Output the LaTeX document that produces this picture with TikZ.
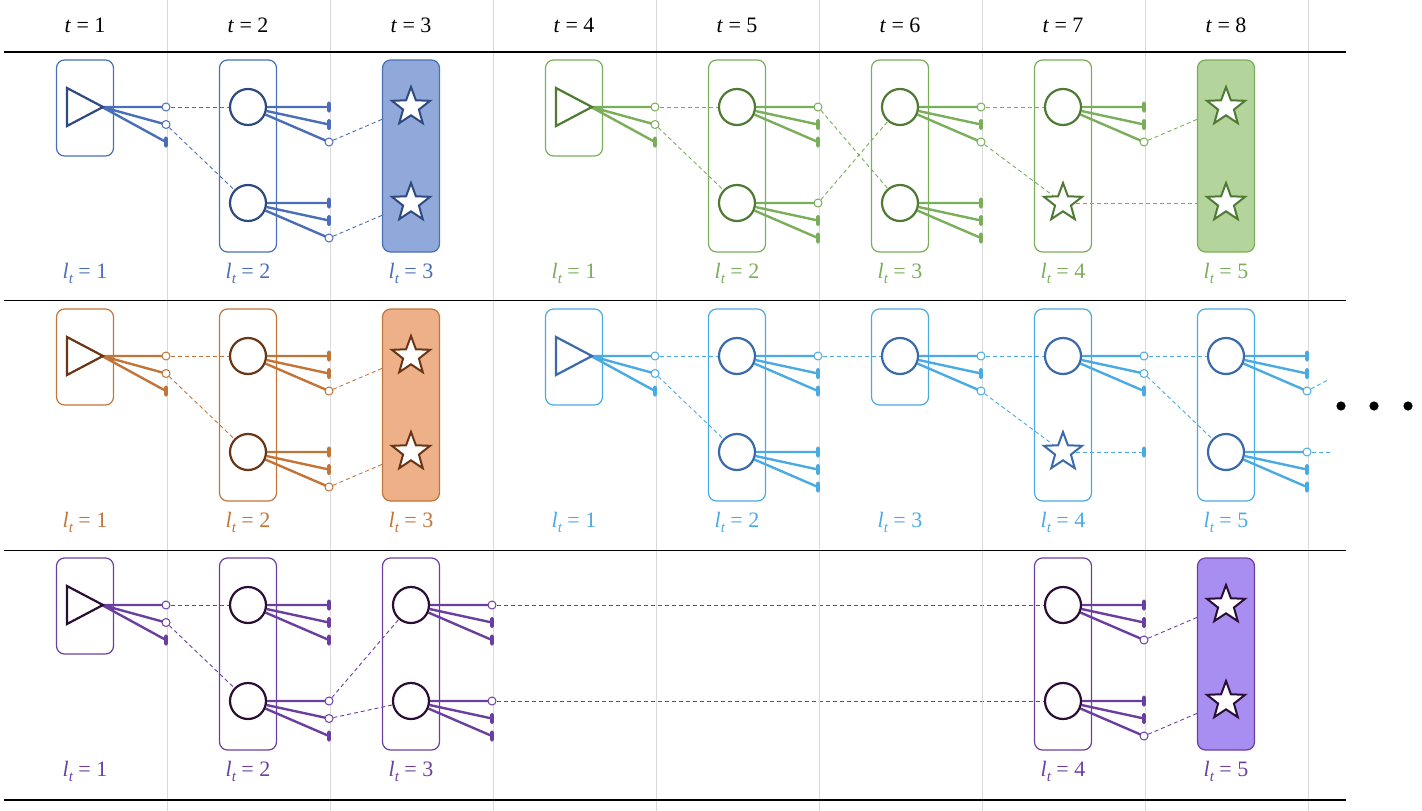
\documentclass[tikz,border=0pt]{standalone}
\usepackage{fontspec}
\setmainfont{Liberation Serif}
\usetikzlibrary{shapes.geometric}
\pgfdeclarelayer{bg}\pgfsetlayers{bg,main}
\definecolor{blueL}{HTML}{4A6FB8}\definecolor{blueD}{HTML}{2E4A80}\definecolor{blueF}{HTML}{91A9DA}
\definecolor{greenL}{HTML}{7AAE5B}\definecolor{greenD}{HTML}{4E7A33}\definecolor{greenF}{HTML}{B3D49B}
\definecolor{orL}{HTML}{C27539}\definecolor{orD}{HTML}{6A3515}\definecolor{orF}{HTML}{EDB088}
\definecolor{lbL}{HTML}{4AABE3}\definecolor{lbD}{HTML}{3A6AAA}\definecolor{lbF}{HTML}{FFFFFF}
\definecolor{puL}{HTML}{6B3FA0}\definecolor{puD}{HTML}{2A0E33}\definecolor{puF}{HTML}{A98EF2}
\newcommand\MyFan[6]{%
 \node[endm#4] (#1a) at (#2,#3) {};
 \node[endm#5] (#1b) at (#2,#3+17.5) {};
 \node[endm#6] (#1c) at (#2,#3+35) {};
 \begin{pgfonlayer}{bg}
 \draw[branch] (#1) -- (#1a.center) (#1) -- (#1b.center) (#1) -- (#1c.center);
 \end{pgfonlayer}}
\newcommand\MyDl[2]{\begin{pgfonlayer}{bg}\draw[dsh] (#1) -- (#2);\end{pgfonlayer}}
\newcommand\MyTri[3]{\draw[dc, line width=2.2pt, line join=miter] (#2-18,#3-19) -- (#2+18,#3) -- (#2-18,#3+19) -- cycle; \coordinate (#1) at (#2+17,#3);}
\newcommand\SmBox[2]{\begin{pgfonlayer}{bg}\node[bx, minimum height=96pt] (#1) at (#2,\ry+108) {};\end{pgfonlayer}}
\newcommand\TlBox[2]{\begin{pgfonlayer}{bg}\node[bx, minimum height=192pt] (#1) at (#2,\ry+156) {};\end{pgfonlayer}}
\newcommand\FlBox[2]{\begin{pgfonlayer}{bg}\node[bx, fill=fc, minimum height=192pt] (#1) at (#2,\ry+156) {};\end{pgfonlayer}}
\newcommand\MyLab[3]{\node[text=lc, font=\fontsize{22}{22}\selectfont] (#1) at (#2,\ry+273) {\textit{l}\raisebox{-5pt}{\fontsize{15}{15}\selectfont\itshape t} = #3};}
\newcommand\MySetc[3]{\colorlet{lc}{#1}\colorlet{dc}{#2}\colorlet{fc}{#3}}
\tikzset{
 endmo/.style={circle, draw=lc, fill=white, line width=1pt, minimum size=8pt, inner sep=0pt},
 endmb/.style={rectangle, fill=lc, rounded corners=1.5pt, minimum width=3.8pt, minimum height=11pt, inner sep=0pt},
 branch/.style={draw=lc, line width=2.4pt},
 dsh/.style={draw=lc, line width=0.9pt, dash pattern=on 4pt off 3pt},
 circ/.style={circle, draw=dc, fill=white, line width=2.2pt, minimum size=36pt, inner sep=0pt},
 st/.style={star, star points=5, star point ratio=2.4, draw=dc, fill=white, line width=2pt, minimum size=40pt, inner sep=0pt},
 bx/.style={draw=lc, rounded corners=8pt, line width=1.2pt, minimum width=57pt, inner sep=0pt},
 hd/.style={font=\fontsize{22}{22}\selectfont}
}
\begin{document}
\begin{tikzpicture}[x=1pt,y=-1pt]
\useasboundingbox (0,0) rectangle (1422,811);
\foreach \x in {167,330,493,656,819,982,1145,1308} \draw[black!15, line width=0.8pt] (\x,0) -- (\x,811);
\draw[line width=2pt] (4,52) -- (1346,52);
\draw[line width=0.9pt] (4,300) -- (1346,300);
\draw[line width=0.9pt] (4,550) -- (1346,550);
\draw[line width=2.5pt] (4,800) -- (1346,800);
\foreach \i in {1,...,8} \node[hd] (h\i) at (85+163*\i-163,25) {\textit{t} = \i};
% ===== Row 1 blue
\def\ry{0}
\MySetc{blueL}{blueD}{blueF}
\MyTri{a1}{85}{107}
\MyFan{a1}{166}{107}{o}{o}{b}
\node[circ] (a2t) at (248,107) {}; \node[circ] (a2b) at (248,203) {};
\MyFan{a2t}{329}{107}{b}{b}{o}\MyFan{a2b}{329}{203}{b}{b}{o}
\node[st] (a3t) at (411,107) {}; \node[st] (a3b) at (411,203) {};
\MyDl{a1a}{a2t}\MyDl{a1b}{a2b}\MyDl{a2tc}{a3t}\MyDl{a2bc}{a3b}
\SmBox{A1}{85}\TlBox{A2}{248}\FlBox{A3}{411}
\MyLab{la1}{85}{1}\MyLab{la2}{248}{2}\MyLab{la3}{411}{3}
% ===== Row 1 green
\MySetc{greenL}{greenD}{greenF}
\MyTri{g4}{574}{107}
\MyFan{g4}{655}{107}{o}{o}{b}
\node[circ] (g5t) at (737,107) {}; \node[circ] (g5b) at (737,203) {};
\MyFan{g5t}{818}{107}{o}{b}{b}\MyFan{g5b}{818}{203}{o}{b}{b}
\node[circ] (g6t) at (900,107) {}; \node[circ] (g6b) at (900,203) {};
\MyFan{g6t}{981}{107}{o}{b}{o}\MyFan{g6b}{981}{203}{b}{b}{b}
\node[circ] (g7t) at (1063,107) {}; \node[st] (g7b) at (1063,203) {};
\MyFan{g7t}{1144}{107}{b}{b}{o}
\node[st] (g8t) at (1226,107) {}; \node[st] (g8b) at (1226,203) {};
\MyDl{g4a}{g5t}\MyDl{g4b}{g5b}\MyDl{g5ta}{g6b}\MyDl{g5ba}{g6t}\MyDl{g6ta}{g7t}\MyDl{g6tc}{g7b}\MyDl{g7tc}{g8t}\MyDl{g7b}{g8b}
\SmBox{G4}{574}\TlBox{G5}{737}\TlBox{G6}{900}\TlBox{G7}{1063}\FlBox{G8}{1226}
\MyLab{lg4}{574}{1}\MyLab{lg5}{737}{2}\MyLab{lg6}{900}{3}\MyLab{lg7}{1063}{4}\MyLab{lg8}{1226}{5}
% ===== Row 2 orange
\def\ry{249}
\MySetc{orL}{orD}{orF}
\MyTri{o1}{85}{356}
\MyFan{o1}{166}{356}{o}{o}{b}
\node[circ] (o2t) at (248,356) {}; \node[circ] (o2b) at (248,452) {};
\MyFan{o2t}{329}{356}{b}{b}{o}\MyFan{o2b}{329}{452}{b}{b}{o}
\node[st] (o3t) at (411,356) {}; \node[st] (o3b) at (411,452) {};
\MyDl{o1a}{o2t}\MyDl{o1b}{o2b}\MyDl{o2tc}{o3t}\MyDl{o2bc}{o3b}
\SmBox{O1}{85}\TlBox{O2}{248}\FlBox{O3}{411}
\MyLab{lo1}{85}{1}\MyLab{lo2}{248}{2}\MyLab{lo3}{411}{3}
% ===== Row 2 light blue
\MySetc{lbL}{lbD}{lbF}
\MyTri{c4}{574}{356}
\MyFan{c4}{655}{356}{o}{o}{b}
\node[circ] (c5t) at (737,356) {}; \node[circ] (c5b) at (737,452) {};
\MyFan{c5t}{818}{356}{o}{b}{b}\MyFan{c5b}{818}{452}{b}{b}{b}
\node[circ] (c6t) at (900,356) {};
\MyFan{c6t}{981}{356}{o}{b}{o}
\node[circ] (c7t) at (1063,356) {}; \node[st] (c7b) at (1063,452) {};
\MyFan{c7t}{1144}{356}{o}{o}{b}
\node[endmb] (c7e) at (1144,452) {};
\node[circ] (c8t) at (1226,356) {}; \node[circ] (c8b) at (1226,452) {};
\MyFan{c8t}{1307}{356}{b}{b}{o}\MyFan{c8b}{1307}{452}{o}{b}{b}
\coordinate (c8s1) at (1328,380); \coordinate (c8s2) at (1332,452);
\MyDl{c4a}{c5t}\MyDl{c4b}{c5b}\MyDl{c5ta}{c6t}\MyDl{c6ta}{c7t}\MyDl{c6tc}{c7b}\MyDl{c7b}{c7e.center}\MyDl{c7ta}{c8t}\MyDl{c7tb}{c8b}\MyDl{c8tc}{c8s1}\MyDl{c8ba}{c8s2}
\SmBox{C4}{574}\TlBox{C5}{737}\SmBox{C6}{900}\TlBox{C7}{1063}\TlBox{C8}{1226}
\MyLab{lc4}{574}{1}\MyLab{lc5}{737}{2}\MyLab{lc6}{900}{3}\MyLab{lc7}{1063}{4}\MyLab{lc8}{1226}{5}
\foreach \x/\n in {1341/1,1374/2,1408/3} \fill (\x,406) circle (4.6pt) coordinate (dot\n);
% ===== Row 3 purple
\def\ry{498}
\MySetc{puL}{puD}{puF}
\MyTri{p1}{85}{605}
\MyFan{p1}{166}{605}{o}{o}{b}
\node[circ] (p2t) at (248,605) {}; \node[circ] (p2b) at (248,701) {};
\MyFan{p2t}{329}{605}{b}{b}{b}\MyFan{p2b}{329}{701}{o}{o}{b}
\node[circ] (p3t) at (411,605) {}; \node[circ] (p3b) at (411,701) {};
\MyFan{p3t}{492}{605}{o}{b}{b}\MyFan{p3b}{492}{701}{o}{b}{b}
\node[circ] (p7t) at (1063,605) {}; \node[circ] (p7b) at (1063,701) {};
\MyFan{p7t}{1144}{605}{b}{b}{o}\MyFan{p7b}{1144}{701}{b}{b}{o}
\node[st] (p8t) at (1226,605) {}; \node[st] (p8b) at (1226,701) {};
\MyDl{p1a}{p2t}\MyDl{p1b}{p2b}\MyDl{p2ba}{p3t}\MyDl{p2bb}{p3b}\MyDl{p3ta}{p7t}\MyDl{p3ba}{p7b}\MyDl{p7tc}{p8t}\MyDl{p7bc}{p8b}
\SmBox{P1}{85}\TlBox{P2}{248}\TlBox{P3}{411}\TlBox{P7}{1063}\FlBox{P8}{1226}
\MyLab{lp1}{85}{1}\MyLab{lp2}{248}{2}\MyLab{lp3}{411}{3}\MyLab{lp7}{1063}{4}\MyLab{lp8}{1226}{5}
\end{tikzpicture}
\end{document}
